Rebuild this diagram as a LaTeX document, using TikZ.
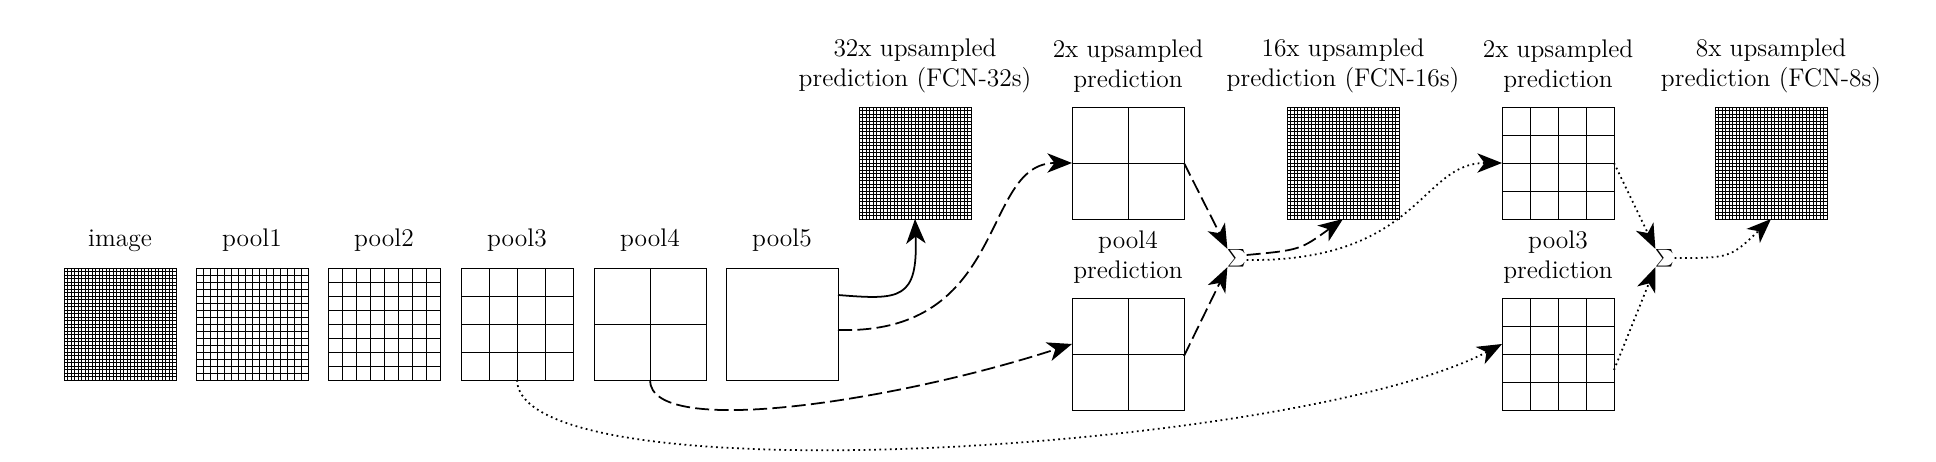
\documentclass[tikz,border=0pt]{standalone}
\usetikzlibrary{arrows.meta}
\newcommand\fcngrid[4]{% name, cx, cy, n
  \node[box] (#1) at (#2,#3) {};
  \ifnum#4>1
  \pgfmathsetmacro\gstep{112/#4}
  \pgfmathtruncatemacro\glast{#4-1}
  \foreach \i in {1,...,\glast}{
    \draw[gridl] ($(#1.north west)+(\i*\gstep,0)$) -- ($(#1.south west)+(\i*\gstep,0)$);
    \draw[gridl] ($(#1.north west)+(0,\i*\gstep)$) -- ($(#1.north east)+(0,\i*\gstep)$);
  }
  \fi
}
\usetikzlibrary{calc}
\begin{document}
\begin{tikzpicture}[x=0.02cm,y=-0.02cm,
  box/.style={draw,line width=0.5pt,minimum size=2.24cm,inner sep=0pt,outer sep=0pt},
  gridl/.style={line width=0.4pt},
  lbl/.style={font=\fontsize{14.5}{17}\selectfont,align=center},
  conn/.style={line width=1pt,-{Stealth[length=14pt,width=11pt,inset=4pt]}},
  sig/.style={inner sep=0pt,font=\fontsize{14}{14}\selectfont}]
\useasboundingbox (0,0) rectangle (1936,462);
\fcngrid{image}{120}{324}{32}
\fcngrid{pool1}{252}{324}{16}
\fcngrid{pool2}{384}{324}{8}
\fcngrid{pool3}{517}{324}{4}
\fcngrid{pool4}{650}{324}{2}
\fcngrid{pool5}{782}{324}{1}
\fcngrid{fcn32}{915}{163}{32}
\fcngrid{up2a}{1128}{163}{2}
\fcngrid{p4pred}{1128}{354}{2}
\fcngrid{fcn16}{1343}{163}{32}
\fcngrid{up2b}{1558}{163}{4}
\fcngrid{p3pred}{1558}{354}{4}
\fcngrid{fcn8}{1771}{163}{32}
\foreach \n/\t in {image/image,pool1/pool1,pool2/pool2,pool3/pool3,pool4/pool4,pool5/pool5}
  \node[lbl,anchor=south] (l\n) at ($(\n.north)+(0,-10)$) {\t};
\node[lbl,anchor=south] (lfcn32) at ($(fcn32.north)+(0,-8)$) {32x upsampled\\prediction (FCN-32s)};
\node[lbl,anchor=south] (lup2a) at ($(up2a.north)+(0,-8)$) {2x upsampled\\prediction};
\node[lbl,anchor=south] (lp4) at ($(p4pred.north)+(0,-8)$) {pool4\\prediction};
\node[lbl,anchor=south] (lfcn16) at ($(fcn16.north)+(0,-8)$) {16x upsampled\\prediction (FCN-16s)};
\node[lbl,anchor=south] (lup2b) at ($(up2b.north)+(0,-8)$) {2x upsampled\\prediction};
\node[lbl,anchor=south] (lp3) at ($(p3pred.north)+(0,-8)$) {pool3\\prediction};
\node[lbl,anchor=south] (lfcn8) at ($(fcn8.north)+(0,-8)$) {8x upsampled\\prediction (FCN-8s)};
\node[sig] (s1) at (1237,258) {$\sum$};
\node[sig] (s2) at (1665,258) {$\sum$};
% connectors
\draw[conn] ($(pool5.east)+(0,-29)$) .. controls (900,300) and (918,300) .. (fcn32.south);
\draw[conn,dash pattern=on 8pt off 3pt] ($(pool5.east)+(0,6)$) .. controls (1010,335) and (980,163) .. (up2a.west);
\draw[conn,dash pattern=on 8pt off 3pt] (pool4.south) .. controls (650,440) and (900,400) .. ($(p4pred.west)+(0,-10)$);
\draw[conn,dotted] (pool3.south) .. controls (520,500) and (1300,450) .. ($(p3pred.west)+(0,-10)$);
\draw[conn,dash pattern=on 8pt off 3pt] (up2a.east) -- (s1.north west);
\draw[conn,dash pattern=on 8pt off 3pt] ($(p4pred.east)+(0,2)$) -- (s1.south west);
\draw[conn,dash pattern=on 8pt off 3pt] ($(s1.east)+(0,-3)$) .. controls (1300,250) .. (fcn16.south);
\draw[conn,dotted] ($(s1.east)+(0,2)$) .. controls (1420,262) and (1420,163) .. (up2b.west);
\draw[conn,dotted] (up2b.east) -- (s2.north west);
\draw[conn,dotted] ($(p3pred.east)+(0,16)$) -- (s2.south west);
\draw[conn,dotted] (s2.east) .. controls (1730,258) .. (fcn8.south);
\end{tikzpicture}
\end{document}
